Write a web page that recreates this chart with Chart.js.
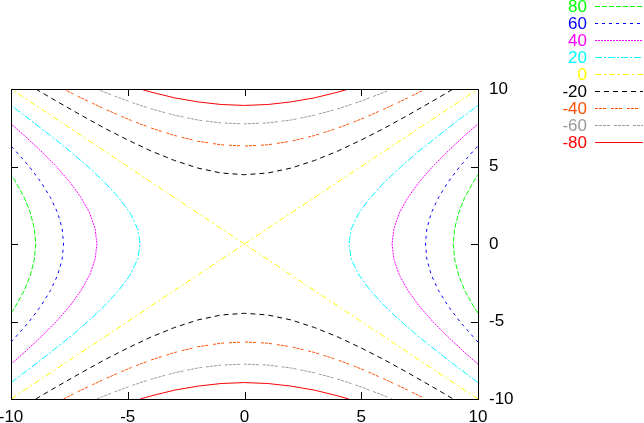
<!DOCTYPE html>
<html>
<head>
<meta charset="utf-8">
<script src="https://cdn.jsdelivr.net/npm/chart.js@4/dist/chart.umd.min.js"></script>
<style>
  html, body { margin: 0; padding: 0; background: #fff; }
  #wrap { width: 644px; height: 423px; }
</style>
</head>
<body>
<div id="wrap"><canvas id="Chart" width="644" height="423"></canvas></div>
<script>
// contour levels of the surface, top of the key first
const levels = [80, 60, 40, 20, 0, -20, -40, -60, -80];
const levelColors = ['#00ff00', '#0000ff', '#ff00ff', '#00ffff', '#ffff00', '#000000', '#ff5000', '#999999', '#ff0000'];
const levelDashes = [[5, 2], [3, 4], [2, 1], [7, 2, 2, 2], [6, 3, 2, 3], [5, 4], [3, 1, 3, 1, 3, 5], [3, 1, 3, 1, 3, 1, 3, 4], []];

const xTicks = [-10, -5, 0, 5, 10];
const yTicks = [-10, -5, 0, 5, 10];

// one branch per level (x, y)
// levels >= 0: right branch, mirrored to the left
// levels < 0: top branch, mirrored to the bottom
const c80 = [[10, -4.47], [9.8, -4], [9.43, -3], [9.17, -2], [9, -1], [8.94, 0], [9, 1], [9.17, 2], [9.43, 3], [9.8, 4], [10, 4.47]];
const c60 = [[10, -6.32], [9.8, -6], [9.22, -5], [8.72, -4], [8.31, -3], [8, -2], [7.81, -1], [7.75, 0], [7.81, 1], [8, 2], [8.31, 3], [8.72, 4], [9.22, 5], [9.8, 6], [10, 6.32]];
const c40 = [[10, -7.75], [9.43, -7], [8.72, -6], [8.06, -5], [7.48, -4], [7, -3], [6.63, -2], [6.4, -1], [6.32, 0], [6.4, 1], [6.63, 2], [7, 3], [7.48, 4], [8.06, 5], [8.72, 6], [9.43, 7], [10, 7.75]];
const c20 = [[10, -8.94], [9.17, -8], [8.31, -7], [7.48, -6], [6.71, -5], [6, -4], [5.39, -3], [4.9, -2], [4.58, -1], [4.47, 0], [4.58, 1], [4.9, 2], [5.39, 3], [6, 4], [6.71, 5], [7.48, 6], [8.31, 7], [9.17, 8], [10, 8.94]];
const c0 = [[-10, -10], [10, 10]];
const cm20 = [[-8.94, 10], [-8, 9.17], [-7, 8.31], [-6, 7.48], [-5, 6.71], [-4, 6], [-3, 5.39], [-2, 4.9], [-1, 4.58], [0, 4.47], [1, 4.58], [2, 4.9], [3, 5.39], [4, 6], [5, 6.71], [6, 7.48], [7, 8.31], [8, 9.17], [8.94, 10]];
const cm40 = [[-7.75, 10], [-7, 9.43], [-6, 8.72], [-5, 8.06], [-4, 7.48], [-3, 7], [-2, 6.63], [-1, 6.4], [0, 6.32], [1, 6.4], [2, 6.63], [3, 7], [4, 7.48], [5, 8.06], [6, 8.72], [7, 9.43], [7.75, 10]];
const cm60 = [[-6.32, 10], [-6, 9.8], [-5, 9.22], [-4, 8.72], [-3, 8.31], [-2, 8], [-1, 7.81], [0, 7.75], [1, 7.81], [2, 8], [3, 8.31], [4, 8.72], [5, 9.22], [6, 9.8], [6.32, 10]];
const cm80 = [[-4.47, 10], [-4, 9.8], [-3, 9.43], [-2, 9.17], [-1, 9], [0, 8.94], [1, 9], [2, 9.17], [3, 9.43], [4, 9.8], [4.47, 10]];

const branches = [c80, c60, c40, c20, c0, cm20, cm40, cm60, cm80];

const datasets = [];
levels.forEach((lev, i) => {
    const pts = branches[i].map(p => ({x: p[0], y: p[1]}));
    const mirror = lev >= 0
        ? branches[i].map(p => ({x: -p[0], y: p[1]}))
        : branches[i].map(p => ({x: p[0], y: -p[1]}));
    [pts, mirror].forEach(d => {
        datasets.push({
            label: String(lev),
            data: d,
            showLine: true,
            borderColor: levelColors[i],
            borderWidth: 1,
            borderDash: levelDashes[i],
            pointRadius: 0,
            tension: 0,
            fill: false
        });
    });
});

const fontSpec = { family: '"Liberation Sans", Arial, sans-serif', size: 17 };

// frame, inward ticks and the key, gnuplot style
const framePlugin = {
    id: 'frame',
    afterDraw(chart) {
        const c = chart.ctx;
        const a = chart.chartArea;
        const xs = chart.scales.x, ys = chart.scales.y;
        const tl = 7;
        c.save();
        c.strokeStyle = '#000';
        c.lineWidth = 1;
        c.setLineDash([]);
        c.strokeRect(a.left + 0.5, a.top + 0.5, a.right - a.left, a.bottom - a.top);
        c.beginPath();
        xTicks.forEach(v => {
            const px = Math.round(xs.getPixelForValue(v)) + 0.5;
            c.moveTo(px, a.bottom); c.lineTo(px, a.bottom - tl);
            c.moveTo(px, a.top); c.lineTo(px, a.top + tl);
        });
        yTicks.forEach(v => {
            const py = Math.round(ys.getPixelForValue(v)) + 0.5;
            c.moveTo(a.left, py); c.lineTo(a.left + tl, py);
            c.moveTo(a.right, py); c.lineTo(a.right - tl, py);
        });
        c.stroke();

        c.font = '17px "Liberation Sans", Arial, sans-serif';
        c.textAlign = 'right';
        c.textBaseline = 'middle';
        levels.forEach((lev, i) => {
            const y = 6 + i * 17;
            c.fillStyle = levelColors[i];
            c.fillText(String(lev), 587, y + 1);
            c.strokeStyle = levelColors[i];
            c.setLineDash(levelDashes[i]);
            c.beginPath();
            c.moveTo(595, y + 0.5);
            c.lineTo(643, y + 0.5);
            c.stroke();
        });
        c.restore();
    }
};

const ctx = document.getElementById('Chart').getContext('2d');
const chart = new Chart(ctx, {
    type: 'scatter',
    data: { datasets: datasets },
    options: {
        responsive: false,
        animation: false,
        layout: { padding: { left: 11, top: 89, right: 0, bottom: 0 } },
        plugins: { legend: { display: false }, tooltip: { enabled: false } },
        scales: {
            x: {
                type: 'linear',
                min: -10, max: 10,
                grid: { display: false, drawTicks: false },
                border: { display: false },
                afterBuildTicks: s => { s.ticks = xTicks.map(v => ({value: v})); },
                afterFit: s => { s.height = 24; s.paddingLeft = 0; s.paddingRight = 0; },
                ticks: { color: '#000', font: fontSpec, padding: 8, maxRotation: 0 }
            },
            y: {
                type: 'linear',
                position: 'right',
                min: -10, max: 10,
                grid: { display: false, drawTicks: false },
                border: { display: false },
                afterBuildTicks: s => { s.ticks = yTicks.map(v => ({value: v})); },
                afterFit: s => { s.width = 166; s.paddingTop = 0; s.paddingBottom = 0; },
                ticks: { color: '#000', font: fontSpec, padding: 11, align: 'center' }
            }
        }
    },
    plugins: [framePlugin]
});
</script>
</body>
</html>
